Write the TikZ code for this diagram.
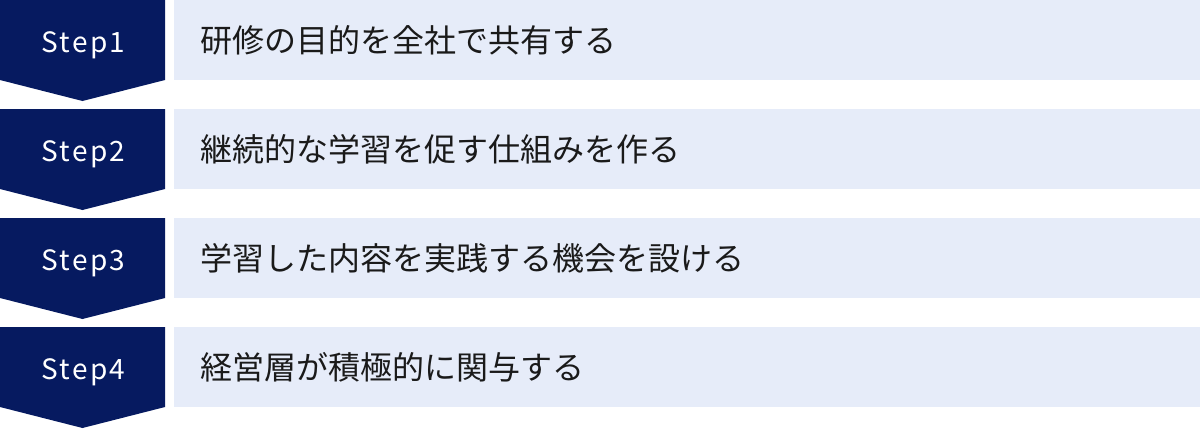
\documentclass[tikz,border=0pt]{standalone}
\usepackage{fontspec}
\setmainfont{Noto Sans CJK JP}
\newfontfamily\stepfont[LetterSpace=8]{Noto Sans CJK JP}
\definecolor{navy}{HTML}{061A60}
\definecolor{pale}{HTML}{E6ECF9}
\definecolor{ink}{HTML}{1A1A1A}
\begin{document}
\begin{tikzpicture}[x=1pt,y=-1pt,
  steplabel/.style={text=white,font=\stepfont\fontsize{28}{30}\selectfont,inner sep=0pt,anchor=base},
  itembox/.style={fill=pale,text=ink,anchor=north west,minimum height=80pt,
    text width=973pt,inner xsep=26.5pt,inner ysep=0pt,align=left,
    font=\fontsize{32}{36}\selectfont}]
\useasboundingbox (0,0) rectangle (1200,429);
\foreach \t [count=\i] in {0,109,218,327}{
  \fill[navy] (0,\t) -- (165,\t) -- (165,\t+80) -- (82.5,\t+101) -- (0,\t+80) -- cycle;
}
\node[steplabel] (s1) at (83.5,52) {Step1};
\node[steplabel] (s2) at (83.5,161) {Step2};
\node[steplabel] (s3) at (83.5,270) {Step3};
\node[steplabel] (s4) at (83.5,379) {Step4};
\node[itembox] (b1) at (174,0) {\raisebox{-2pt}{研修の目的を全社で共有する}};
\node[itembox] (b2) at (174,109) {\raisebox{-2pt}{継続的な学習を促す仕組みを作る}};
\node[itembox] (b3) at (174,218) {\raisebox{-2pt}{学習した内容を実践する機会を設ける}};
\node[itembox] (b4) at (174,327) {\raisebox{-2pt}{経営層が積極的に関与する}};
\end{tikzpicture}
\end{document}
